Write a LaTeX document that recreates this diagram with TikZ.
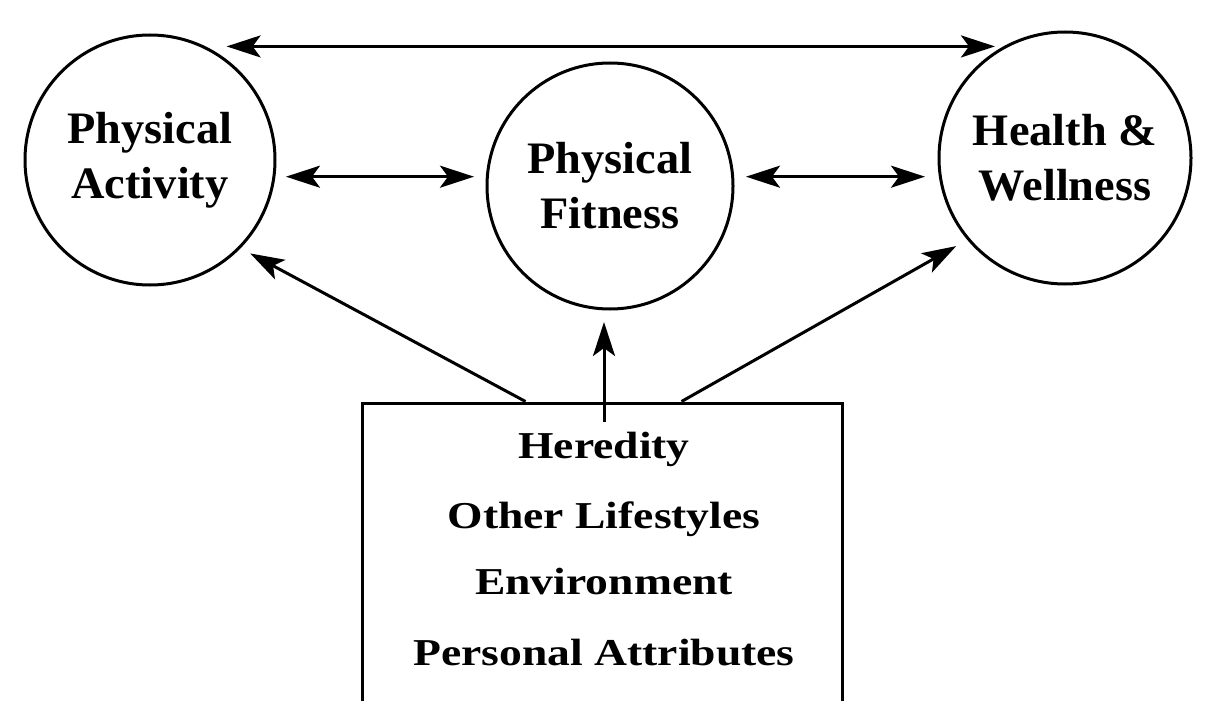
\documentclass[tikz,border=0pt]{standalone}
\usepackage{fontspec}
\setmainfont{Liberation Serif}
\newfontfamily\circfont[FakeStretch=1.03]{Liberation Serif}
\newfontfamily\boxfont[FakeStretch=1.2]{Liberation Serif}
\usetikzlibrary{arrows.meta,calc}
\tikzset{
  circ/.style={circle,draw,line width=3pt,inner sep=0pt,align=center,
    font=\circfont\bfseries\fontsize{45}{55}\selectfont},
  factorbox/.style={rectangle,draw,line width=3pt,minimum width=480pt,minimum height=330pt},
  factor/.style={anchor=base,inner sep=0pt,font=\boxfont\bfseries\fontsize{38}{46}\selectfont},
  link/.style={line width=3pt,-{Stealth[length=34pt,width=22pt,inset=8pt]}},
  dbl/.style={line width=3pt,{Stealth[length=34pt,width=22pt,inset=8pt]}-{Stealth[length=34pt,width=22pt,inset=8pt]}}
}
\begin{document}
\begin{tikzpicture}[x=1pt,y=-1pt]
\useasboundingbox (0,0) rectangle (1216,701);
\node[circ,minimum size=250pt,outer sep=12pt] (pa) at (150,160) {Physical\\Activity};
\node[circ,minimum size=246pt,outer sep=13pt] (pf) at (610,186) {Physical\\Fitness};
\node[circ,minimum size=252pt,outer sep=14pt] (hw) at (1065,158) {Health \&\\Wellness};
\node[factorbox] (box) at (602,568) {};
\node[factor] (f1) at (604,458) {Heredity};
\node[factor] (f2) at (604,528) {Other Lifestyles};
\node[factor] (f3) at (604,594) {Environment};
\node[factor] (f4) at (604,665) {Personal Attributes};
\coordinate (footl) at ($(box.north west)+(165,0)$);
\coordinate (footm) at ($(box.north)+(2,20)$);
\coordinate (footr) at ($(box.north west)+(321,0)$);
\draw[dbl] (pa.56) -- (pa.56 -| hw.120);
\draw[dbl] (pa.-7) -- (pa.-7 -| pf.west);
\draw[dbl] (pa.-7 -| pf.east) -- (pa.-7 -| hw.west);
\draw[link] (footl) -- (pa.-43);
\draw[link] (footm) -- (footm |- pf.south);
\draw[link] (footr) -- (hw.-141);
\end{tikzpicture}
\end{document}
